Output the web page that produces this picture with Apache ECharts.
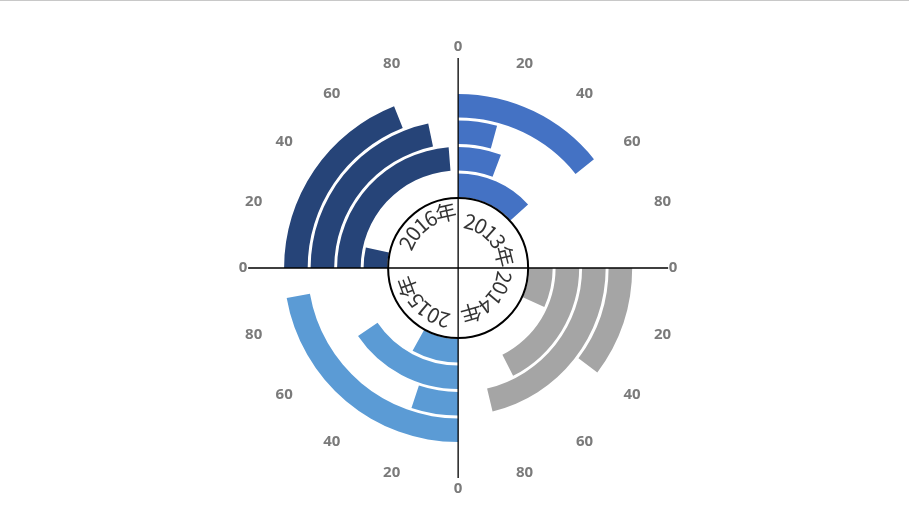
<!DOCTYPE html>
<html>
<head>
    <meta charset="UTF-8">
    <title>2013-2016年 四象限环形图</title>
    <style>
        html, body {
            margin: 0;
            padding: 0;
            width: 100%;
            height: 100%;
            overflow: hidden;
            background: #fff;
        }
        #main {
            width: 100%;
            height: 100%;
        }
        #topline {
            position: absolute;
            left: 0;
            top: 0;
            width: 100%;
            height: 1px;
            background: #c8c8c8;
            z-index: 2;
        }
    </style>
    <script src="https://cdn.jsdelivr.net/npm/echarts@6/dist/echarts.min.js"></script>
</head>
<body>
    <div id="topline"></div>
    <div id="main"></div>

    <script>
        // 年份，顺时针从右上象限开始
        const years = ['2013年', '2014年', '2015年', '2016年'];
        // 每个象限四个环，从内到外
        const rings = ['环1', '环2', '环3', '环4'];
        const data2013 = [53, 23, 17, 57];
        const data2014 = [27, 70, 85, 41];
        const data2015 = [32, 62, 20.5, 89];
        const data2016 = [14, 95, 87, 76];
        // 每个象限的刻度标签
        const tickValues = [0, 20, 40, 60, 80];

        const yearData = [data2013, data2014, data2015, data2016];
        const colors = ['#4472C4', '#A5A5A5', '#5B9BD5', '#264478'];
        const startAngles = [90, 0, -90, 180];   // 每个象限的起点
        // 中心圆里弧形文字的位置（半径, 中心角度，顺时针从正上方量）
        const textRadius = [48, 47, 54, 57];
        const textCenterDeg = [48, 135.5, 225, 324];

        const CENTER = ['50.4%', '52.55%'];
        const TEXT_FONT = 'Noto Sans CJK SC';
        const TEXT_SIZE = 21;
        const LABEL_R = 215;

        function initializeChart() {
            const chart = echarts.init(document.getElementById('main'));

            const polar = [];
            const angleAxis = [];
            const radiusAxis = [];
            const series = [];

            // 四个象限，每个象限是一个 0-100 对应 90 度的极坐标
            yearData.forEach(function (vals, i) {
                polar.push({ center: CENTER, radius: [69.5, 175.5] });
                angleAxis.push({
                    polarIndex: i, type: 'value', min: 0, max: 400,
                    startAngle: startAngles[i], clockwise: true, show: false
                });
                radiusAxis.push({ polarIndex: i, type: 'category', data: rings, show: false });
                series.push({
                    name: years[i],
                    type: 'bar',
                    coordinateSystem: 'polar',
                    polarIndex: i,
                    data: vals,
                    barCategoryGap: '11%',
                    itemStyle: { color: colors[i] },
                    silent: true
                });
            });

            // 十字坐标线
            polar.push({ center: CENTER, radius: [0, 210] });
            angleAxis.push({
                polarIndex: 4, type: 'value', min: 0, max: 400, interval: 100,
                startAngle: 90, z: 5,
                axisLine: { show: false }, axisTick: { show: false }, axisLabel: { show: false },
                splitLine: { show: true, lineStyle: { color: '#000', width: 1.3 } }
            });
            radiusAxis.push({ polarIndex: 4, type: 'value', show: false });

            // 中间的圆
            polar.push({ center: CENTER, radius: [0, 70] });
            angleAxis.push({
                polarIndex: 5, type: 'value', min: 0, max: 400, startAngle: 90, z: 5,
                axisLine: { show: true, lineStyle: { color: '#000', width: 2 } },
                axisTick: { show: false }, axisLabel: { show: false }, splitLine: { show: false }
            });
            radiusAxis.push({ polarIndex: 5, type: 'value', show: false });

            // 文字用的极坐标
            polar.push({ center: CENTER, radius: [0, LABEL_R] });
            angleAxis.push({
                polarIndex: 6, type: 'value', min: 0, max: 400, startAngle: 90, clockwise: true, show: false
            });
            radiusAxis.push({ polarIndex: 6, type: 'value', min: 0, max: LABEL_R, show: false });

            // 刻度标签 0 20 40 60 80，四个象限各一套
            const tickData = [];
            for (let q = 0; q < 4; q++) {
                tickValues.forEach(function (v) {
                    const item = { name: String(v), value: [LABEL_R, q * 100 + v] };
                    // 上下两端的 0 离得远一点
                    if (v === 0 && q === 0) item.label = { offset: [0, -6] };
                    if (v === 0 && q === 2) item.label = { offset: [0, 6] };
                    tickData.push(item);
                });
            }
            series.push({
                type: 'scatter', coordinateSystem: 'polar', polarIndex: 6,
                symbolSize: 1, itemStyle: { color: 'rgba(0,0,0,0)' }, silent: true, z: 6,
                label: {
                    show: true, position: 'inside', formatter: '{b}',
                    color: '#595959', fontSize: 15, fontWeight: 'bold', fontFamily: 'Open Sans'
                },
                data: tickData
            });

            // 中心圆里沿圆弧排列的年份文字
            const ctx = document.createElement('canvas').getContext('2d');
            ctx.font = TEXT_SIZE + 'px "' + TEXT_FONT + '"';
            const charData = [];
            years.forEach(function (txt, i) {
                const chars = Array.from(txt);
                const widths = chars.map(function (c) { return ctx.measureText(c).width; });
                const total = widths.reduce(function (a, b) { return a + b; }, 0);
                const r = textRadius[i];
                let acc = 0;
                chars.forEach(function (c, k) {
                    const mid = acc + widths[k] / 2;
                    acc += widths[k];
                    const deg = textCenterDeg[i] + (mid - total / 2) / r * 180 / Math.PI;
                    charData.push({
                        name: c,
                        value: [r, deg / 0.9],
                        label: { rotate: -deg }
                    });
                });
            });
            series.push({
                type: 'scatter', coordinateSystem: 'polar', polarIndex: 6,
                symbolSize: 1, itemStyle: { color: 'rgba(0,0,0,0)' }, silent: true, z: 6,
                label: {
                    show: true, position: 'inside', formatter: '{b}',
                    color: '#000', fontSize: TEXT_SIZE, fontFamily: TEXT_FONT
                },
                data: charData
            });

            chart.setOption({
                animation: false,
                polar: polar,
                angleAxis: angleAxis,
                radiusAxis: radiusAxis,
                series: series
            });

            window.addEventListener('resize', function () {
                chart.resize();
            });
        }

        if (typeof echarts !== 'undefined') {
            initializeChart();
        } else {
            console.error('ECharts is not loaded');
        }
    </script>
</body>
</html>
